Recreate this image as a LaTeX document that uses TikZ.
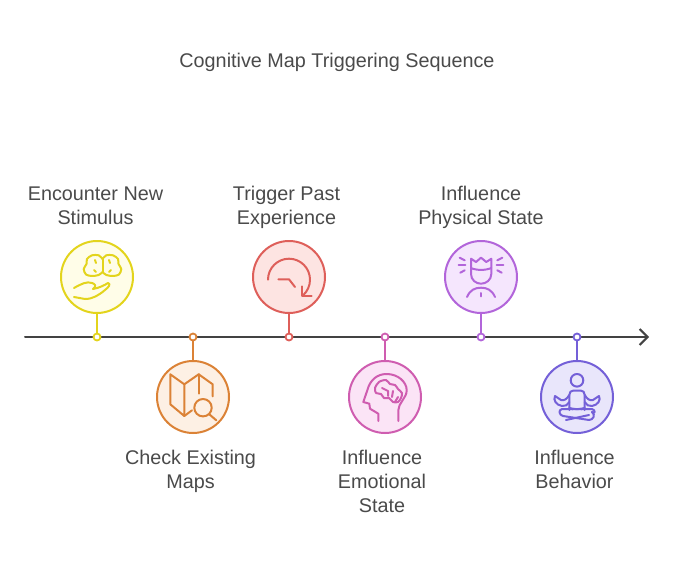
\documentclass[tikz,border=0pt]{standalone}
\usepackage{fontspec}
\setmainfont{Liberation Sans}
\usetikzlibrary{arrows.meta}
\definecolor{linegray}{HTML}{434343}
\definecolor{txtgray}{HTML}{4A4A4A}
\definecolor{yelline}{HTML}{E3D41C}\definecolor{yelfill}{HTML}{FFFDE8}
\definecolor{orgline}{HTML}{DB8236}\definecolor{orgfill}{HTML}{FDF0E4}
\definecolor{redline}{HTML}{DE5F5A}\definecolor{redfill}{HTML}{FDE4E2}
\definecolor{pnkline}{HTML}{CF5DB0}\definecolor{pnkfill}{HTML}{FBE4F6}
\definecolor{purline}{HTML}{B265DA}\definecolor{purfill}{HTML}{F5E6FD}
\definecolor{violine}{HTML}{7460D8}\definecolor{viofill}{HTML}{E9E6FB}
\tikzset{
  bubble/.style={circle,draw=#1line,fill=#1fill,line width=2pt,minimum size=72pt,inner sep=0pt},
  knot/.style={circle,draw=#1line,fill=white,line width=1.8pt,minimum size=7pt,inner sep=0pt},
  stem/.style={draw=#1line,line width=2pt},
  glyph/.style={draw=#1line,line width=2pt,line cap=round,line join=round},
  lbl/.style={text=txtgray,align=center,inner sep=0pt,font=\fontsize{19.8}{24}\selectfont},
}
\begin{document}
\begin{tikzpicture}[line cap=round,line join=round,x=1pt,y=1pt]
\useasboundingbox (0,0) rectangle (674,566);
\node[lbl] (title) at (337,503.5) {Cognitive Map Triggering Sequence};
% time line
\coordinate (axisstart) at (25,229);
\coordinate (axisend) at (649,229);
\draw [line width=2pt, color=linegray, -{Straight Barb[length=8pt,width=16pt,line width=2pt]}] (axisstart)-- (axisend);
% bubbles
\node[bubble=yel] (encounter) at (97,289) {};
\node[bubble=org] (check) at (193,169) {};
\node[bubble=red] (trigger) at (289,289) {};
\node[bubble=pnk] (emotional) at (385,169) {};
\node[bubble=pur] (physical) at (481,289) {};
\node[bubble=vio] (behavior) at (577,169) {};
% knots on the line
\node[knot=yel] (encounterdot) at (97,229) {};
\node[knot=org] (checkdot) at (193,229) {};
\node[knot=red] (triggerdot) at (289,229) {};
\node[knot=pnk] (emotionaldot) at (385,229) {};
\node[knot=pur] (physicaldot) at (481,229) {};
\node[knot=vio] (behaviordot) at (577,229) {};
\draw [stem=yel] (encounter)-- (encounterdot);
\draw [stem=org] (check)-- (checkdot);
\draw [stem=red] (trigger)-- (triggerdot);
\draw [stem=pnk] (emotional)-- (emotionaldot);
\draw [stem=pur] (physical)-- (physicaldot);
\draw [stem=vio] (behavior)-- (behaviordot);
% labels
\node[lbl] (encounterlbl) at (95.5,360.5) {Encounter New\\Stimulus};
\node[lbl] (checklbl) at (190.5,94.5) {Check Existing\\Maps};
\node[lbl] (triggerlbl) at (286.5,358.5) {Trigger Past\\Experience};
\node[lbl] (emotionallbl) at (382,84.5) {Influence\\Emotional\\State};
\node[lbl] (physicallbl) at (481,358.5) {Influence\\Physical State};
\node[lbl] (behaviorlbl) at (574.5,96.5) {Influence\\Behavior};
% brain and hand
\begin{scope}[shift={(encounter)},yscale=-1,glyph=yel]
\draw plot[smooth] coordinates {(5.5,-18) (1.7,-21.7) (-5,-21.7) (-10,-18) (-10.5,-13) (-13.3,-8) (-11,-2.5) (-5,-1) (1.7,-2) (5.5,-5)};
\draw plot[smooth] coordinates {(5.5,-18) (9.3,-21.7) (16,-21.7) (21,-18) (21.5,-13) (24.3,-8) (22,-2.5) (16,-1) (9.3,-2) (5.5,-5)};
\draw (5.5,-18)-- (5.5,-5);
\draw (-2,-17)-- (-1,-14);
\draw (-3,-7)-- (-1,-5);
\draw (12,-17)-- (13,-14);
\draw (12,-5)-- (14,-7);
\draw (-23,11) .. controls (-16,7) and (-10,4) .. (-5,6) .. controls (-2,7) and (0,9) .. (-4,12);
\draw (-4,12) .. controls (2,11) and (8,8) .. (11,6) .. controls (14,7) and (12,10) .. (8,13) .. controls (2,18) and (-4,22) .. (-12,22) -- (-23,20);
\end{scope}
% map and lens
\begin{scope}[shift={(check)},yscale=-1,glyph=org]
\draw (-8.7,-12.7)-- (-22.7,-22.7)-- (-22.7,7.3)-- (-8.7,19)-- (-8.7,-12.7)-- (5.7,-22.7)-- (19.7,-12.7)-- (19.7,-0.7);
\draw (5.7,-22.7)-- (5.7,-3.3);
\draw (-8.7,19)-- (-1,13.3);
\draw (10,10.7) circle (8.7);
\draw (16.3,17.3)-- (23.3,23.3);
\end{scope}
% replay arrow
\begin{scope}[shift={(trigger)},yscale=-1,glyph=red]
\draw (-21,2.7) arc[start angle=180,end angle=408,radius=21];
\draw (12.7,9.3)-- (12.7,19)-- (22.7,19);
\draw (-10.7,2.3)-- (0,2.3)-- (6,10);
\end{scope}
% head with brain
\begin{scope}[shift={(emotional)},yscale=-1,glyph=pnk]
\draw (-6.7,24)-- (-6.7,16.7)-- (-15,11.7)-- (-15.7,6.7)-- (-21.7,5)-- (-17.7,-6.7) .. controls (-15,-17) and (-8,-23) .. (1.7,-23) .. controls (13,-23) and (21.7,-15) .. (21.7,-6.7) .. controls (21.7,1) and (13.3,6) .. (13.3,13.3)-- (13.3,24);
\draw plot[smooth cycle] coordinates {(-10,-9) (-6,-15) (1,-17) (5,-13) (10,-12) (13,-8) (17,-4) (16,1) (13,5) (8,5) (4,1) (-1,1) (-4,-3) (-9,-4)};
\draw (-3,-9)-- (3,-6)-- (3,-1);
\draw (8,-6)-- (7,0);
\draw (10,5)-- (13,0);
\end{scope}
% crowned figure
\begin{scope}[shift={(physical)},yscale=-1,glyph=pur]
\draw (-10,-18.3)-- (-10,-3) .. controls (-10,3) and (-5,6.7) .. (0,6.7) .. controls (5,6.7) and (10.3,3) .. (10.3,-3)-- (10.3,-18.3)-- (5.3,-15)-- (0,-19.3)-- (-5,-15)-- cycle;
\draw (-10,-9) .. controls (-5,-6.5) and (5,-6.5) .. (10.3,-9);
\draw (-14,20) .. controls (-11,13) and (-6,10.7) .. (0,10.7) .. controls (6,10.7) and (11,13) .. (14,20);
\draw (0,16)-- (0,19.3);
\draw (-21.3,-19.3)-- (-16.3,-16.7);
\draw (-22.3,-11.7)-- (-15.7,-11.7);
\draw (-20.7,-4.3)-- (-16.3,-6.7);
\draw (21.3,-19.3)-- (16.3,-16.7);
\draw (22.3,-11.7)-- (15.7,-11.7);
\draw (20.7,-4.3)-- (16.3,-6.7);
\end{scope}
% sitting figure
\begin{scope}[shift={(behavior)},yscale=-1,glyph=vio]
\draw (0,-16.7) circle (6.3);
\draw (-7.7,13)-- (-7.7,-2) .. controls (-7.7,-5) and (-6,-6.3) .. (-4,-6.3)-- (4,-6.3) .. controls (6,-6.3) and (7.7,-5) .. (7.7,-2)-- (7.7,13);
\draw (-7.7,-2) .. controls (-10,2) and (-13,4) .. (-16,3) .. controls (-18,2) and (-20,0) .. (-22,-1) .. controls (-24,3) and (-21,8) .. (-15,9) .. controls (-12,9.5) and (-9,8) .. (-7.7,5);
\draw (7.7,-2) .. controls (10,2) and (13,4) .. (16,3) .. controls (18,2) and (20,0) .. (22,-1) .. controls (24,3) and (21,8) .. (15,9) .. controls (12,9.5) and (9,8) .. (7.7,5);
\draw (7.7,11) .. controls (0,13) and (-10,12) .. (-15,12) .. controls (-19,13) and (-18,18) .. (-14,19)-- (12,23) .. controls (16,23) and (19,18) .. (15,15);
\draw (-7.7,11) .. controls (0,13) and (10,12) .. (15,12) .. controls (19,13) and (18,18) .. (15,15);
\draw (12,18)-- (-11,23);
\end{scope}
\end{tikzpicture}
\end{document}
